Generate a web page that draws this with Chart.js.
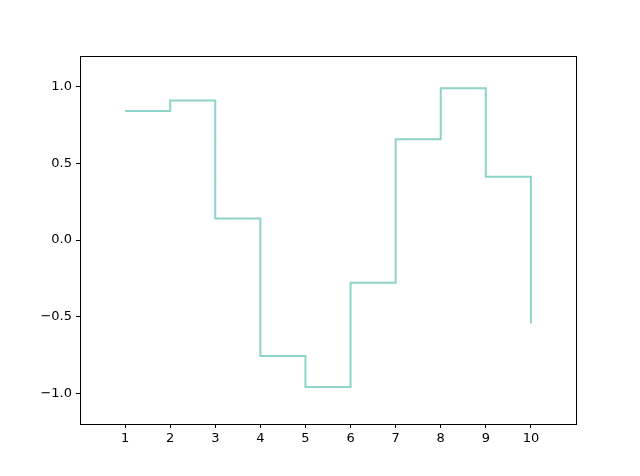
<!DOCTYPE html>
<html>
<head>
<meta charset="utf-8">
<script src="https://cdn.jsdelivr.net/npm/chart.js@4"></script>
<style>
  html, body { margin: 0; padding: 0; background: #fff; }
  #wrap { width: 640px; height: 476px; }
</style>
</head>
<body>
<div id="wrap"><canvas id="chart" width="640" height="476"></canvas></div>
<script>
// данные ступенчатого графика
const xValues = [1, 2, 3, 4, 5, 6, 7, 8, 9, 10];
const yValues = [0.841, 0.909, 0.141, -0.757, -0.959, -0.279, 0.657, 0.989, 0.412, -0.544];
const xTicks = [1, 2, 3, 4, 5, 6, 7, 8, 9, 10];
const yTicks = [-1.0, -0.5, 0.0, 0.5, 1.0];

const points = xValues.map(function(x, i) { return { x: x, y: yValues[i] }; });

// рамка вокруг области графика
const frame = {
    id: 'frame',
    afterDraw: function(chart) {
        const a = chart.chartArea;
        const c = chart.ctx;
        c.save();
        c.strokeStyle = '#000';
        c.lineWidth = 1;
        c.strokeRect(Math.round(a.left) + 0.5, Math.round(a.top) + 0.5,
                     Math.round(a.right - a.left), Math.round(a.bottom - a.top));
        c.restore();
    }
};

Chart.defaults.font.family = 'DejaVu Sans';
Chart.defaults.font.size = 13;
Chart.defaults.color = '#000';

new Chart(document.getElementById('chart').getContext('2d'), {
    type: 'line',
    data: {
        datasets: [{
            data: points,
            borderColor: '#8dd3c7',
            borderWidth: 2,
            stepped: true,
            pointRadius: 0,
            fill: false
        }]
    },
    options: {
        responsive: false,
        animation: false,
        layout: { padding: { top: 56, right: 64, left: 0, bottom: 0 } },
        plugins: { legend: { display: false }, tooltip: { enabled: false } },
        scales: {
            x: {
                type: 'linear',
                min: 0,
                max: 11,
                afterBuildTicks: function(s) { s.ticks = xTicks.map(function(v) { return { value: v }; }); },
                afterFit: function(s) { s.height = 52; },
                grid: { drawOnChartArea: false, tickLength: 4, tickColor: '#000' },
                border: { color: '#000' },
                ticks: { padding: 3, maxRotation: 0, callback: function(v) { return String(v); } }
            },
            y: {
                min: -1.2,
                max: 1.2,
                afterBuildTicks: function(s) { s.ticks = yTicks.map(function(v) { return { value: v }; }); },
                afterFit: function(s) { s.width = 80; },
                grid: { drawOnChartArea: false, tickLength: 4, tickColor: '#000' },
                border: { color: '#000' },
                ticks: {
                    padding: 4,
                    callback: function(v) { return v.toFixed(1).replace('-', '\u2212'); }
                }
            }
        }
    },
    plugins: [frame]
});
</script>
</body>
</html>
